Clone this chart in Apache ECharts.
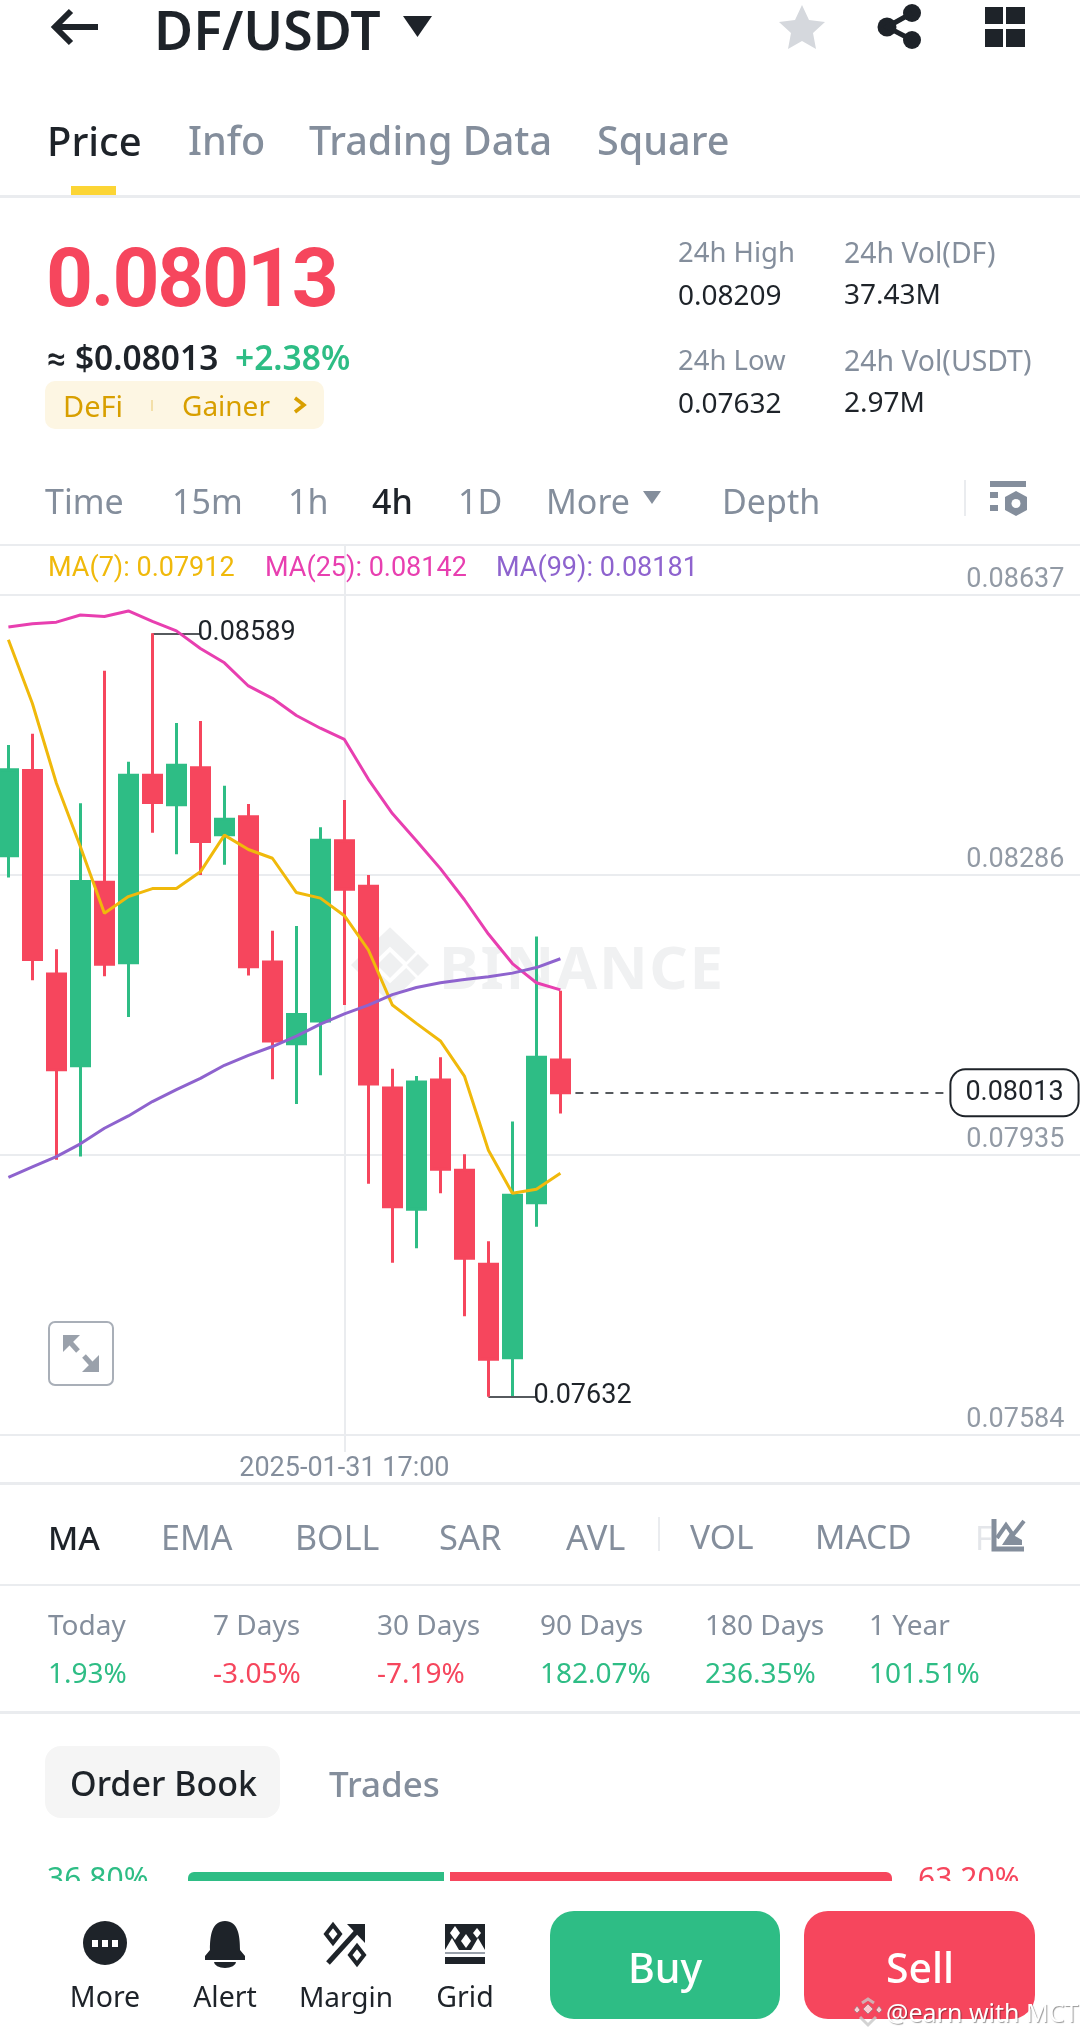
<!DOCTYPE html>
<html><head><meta charset="utf-8">
<script src="https://cdn.jsdelivr.net/npm/echarts@6/dist/echarts.min.js"></script>
<style>
html,body{margin:0;padding:0;background:#fff;}
body{width:1080px;height:2036px;overflow:hidden;position:relative;font-family:"Noto Sans",Roboto,sans-serif;color:#1e2329;}
#chart{position:absolute;left:0;top:0;width:1080px;height:2036px;z-index:2;}
#under{position:absolute;left:0;top:0;width:1080px;height:2036px;z-index:1;}
#over{position:absolute;left:0;top:0;width:1080px;height:2036px;z-index:3;}
.t{position:absolute;white-space:nowrap;line-height:1;transform:translateY(-50%);}
.c{transform:translate(-50%,-50%);}
.g{color:#848e9c;} .up{color:#2ebd85;} .dn{color:#f6465d;}
.rule{position:absolute;left:0;width:1080px;background:#eaecef;}
.box{position:absolute;}
</style></head><body>
<div id="under">
<div class="t" style="left:439px;top:966px;font:700 60px 'Noto Sans';color:#f0f1f2;letter-spacing:1.6px;">BINANCE</div>
<svg width="1080" height="2036" style="position:absolute;left:0;top:0">
<g fill="#eff0f1" stroke="none">
<polygon points="390,952 403,965 390,978 377,965"/><polygon points="418,954 429,965 418,976 407,965"/><polygon points="362,954 373,965 362,976 351,965"/>
</g>
<g fill="none" stroke="#eff0f1" stroke-width="14"><polyline points="369,957 390,937 411,957"/><polyline points="369,973 390,993 411,973"/></g>
</svg>
</div>
<div id="chart"></div>
<div id="over">
<div class="rule" style="top:195px;height:3px"></div>
<div class="rule" style="top:544px;height:2px"></div>
<div class="rule" style="top:1482px;height:3px"></div>
<div class="rule" style="top:1584px;height:2px"></div>
<div class="rule" style="top:1711px;height:3px"></div>
<div class="box" style="left:71px;top:186px;width:45px;height:9px;background:#fcd535"></div>

<div class="t" style="left:154px;top:30px;font-size:53.5px;font-weight:600;">DF/USDT</div>

<div class="t" style="left:47px;top:141px;font-size:40px;font-weight:500;">Price</div>
<div class="t g" style="left:188px;top:141px;font-size:39.6px;font-weight:500;">Info</div>
<div class="t g" style="left:309px;top:141px;font-size:39.6px;font-weight:500;">Trading Data</div>
<div class="t g" style="left:597px;top:141px;font-size:39.6px;font-weight:500;">Square</div>

<div class="t dn" style="left:46px;top:278px;font:700 82px Roboto;letter-spacing:-2.2px;">0.08013</div>
<div class="t" style="left:47px;top:358px;font-size:33.5px;font-weight:600;">≈ $0.08013</div>
<div class="t up" style="left:235px;top:358px;font-size:33.5px;font-weight:600;">+2.38%</div>
<div class="box" style="left:45px;top:381px;width:279px;height:48px;background:#fdf6e3;border-radius:10px"></div>
<div class="t" style="left:63px;top:405px;font-size:29px;color:#d89f00;">DeFi</div>
<div class="box" style="left:151px;top:400px;width:2px;height:11px;background:#f3dfa8"></div>
<div class="t" style="left:182px;top:405px;font-size:28px;color:#d89f00;">Gainer</div>

<div class="t g" style="left:678px;top:252px;font-size:27.5px;">24h High</div>
<div class="t" style="left:678px;top:294px;font-size:28px;">0.08209</div>
<div class="t g" style="left:844px;top:252px;font-size:28.4px;">24h Vol(DF)</div>
<div class="t" style="left:844px;top:293px;font-size:28px;">37.43M</div>
<div class="t g" style="left:678px;top:360px;font-size:27.5px;">24h Low</div>
<div class="t" style="left:678px;top:402px;font-size:28px;">0.07632</div>
<div class="t g" style="left:844px;top:360px;font-size:28.4px;">24h Vol(USDT)</div>
<div class="t" style="left:844px;top:401px;font-size:28px;">2.97M</div>

<div class="t g" style="left:45px;top:501px;font-size:34px;">Time</div>
<div class="t g" style="left:172px;top:501px;font-size:34px;">15m</div>
<div class="t g" style="left:288px;top:501px;font-size:34px;">1h</div>
<div class="t" style="left:372px;top:501px;font-size:34px;font-weight:500;">4h</div>
<div class="t g" style="left:458px;top:501px;font-size:34px;">1D</div>
<div class="t g" style="left:546px;top:501px;font-size:34px;">More</div>
<div class="t g" style="left:722px;top:501px;font-size:34px;">Depth</div>
<div class="box" style="left:964px;top:480px;width:2px;height:36px;background:#eaecef"></div>

<div class="t" style="left:48px;top:567px;font:27px Roboto;color:#f0b90b;">MA(7): 0.07912</div>
<div class="t" style="left:265px;top:567px;font:27px Roboto;color:#e83fb0;">MA(25): 0.08142</div>
<div class="t" style="left:496px;top:567px;font:27px Roboto;color:#8e63ce;">MA(99): 0.08181</div>

<div class="t" style="left:48px;top:1537px;font-size:33px;font-weight:500;">MA</div>
<div class="t g" style="left:161px;top:1537px;font-size:34px;">EMA</div>
<div class="t g" style="left:295px;top:1537px;font-size:34px;">BOLL</div>
<div class="t g" style="left:439px;top:1537px;font-size:34.5px;">SAR</div>
<div class="t g" style="left:566px;top:1537px;font-size:34.5px;">AVL</div>
<div class="box" style="left:658px;top:1517px;width:2px;height:34px;background:#eaecef"></div>
<div class="t g" style="left:690px;top:1537px;font-size:33.5px;">VOL</div>
<div class="t g" style="left:815px;top:1537px;font-size:33.5px;">MACD</div>
<div class="t" style="left:975px;top:1537px;font-size:33px;color:#e4e6ea;">F</div>

<div class="t g" style="left:48px;top:1624px;font-size:28px;">Today</div><div class="t up" style="left:48px;top:1672px;font-size:28px;">1.93%</div>
<div class="t g" style="left:213px;top:1624px;font-size:28px;">7 Days</div><div class="t dn" style="left:213px;top:1672px;font-size:28px;">-3.05%</div>
<div class="t g" style="left:377px;top:1624px;font-size:28px;">30 Days</div><div class="t dn" style="left:377px;top:1672px;font-size:28px;">-7.19%</div>
<div class="t g" style="left:540px;top:1624px;font-size:28px;">90 Days</div><div class="t up" style="left:540px;top:1672px;font-size:28px;">182.07%</div>
<div class="t g" style="left:705px;top:1624px;font-size:28px;">180 Days</div><div class="t up" style="left:705px;top:1672px;font-size:28px;">236.35%</div>
<div class="t g" style="left:869px;top:1624px;font-size:28px;">1 Year</div><div class="t up" style="left:869px;top:1672px;font-size:28px;">101.51%</div>

<div class="box" style="left:45px;top:1746px;width:235px;height:72px;background:#f5f5f5;border-radius:16px"></div>
<div class="t" style="left:70px;top:1783px;font-size:34px;font-weight:500;">Order Book</div>
<div class="t g" style="left:329px;top:1783px;font-size:35px;font-weight:500;">Trades</div>

<div class="box" style="left:0;top:1860px;width:1080px;height:21px;overflow:hidden">
<div class="t up" style="left:47px;top:18px;font-size:30px;">36.80%</div>
<div class="box" style="left:188px;top:12px;width:256px;height:20px;background:#2ebd85;border-radius:6px 0 0 6px"></div>
<div class="box" style="left:450px;top:12px;width:442px;height:20px;background:#f6465d;border-radius:0 6px 6px 0"></div>
<div class="t dn" style="left:918px;top:18px;font-size:30px;">63.20%</div>
</div>

<div class="t c" style="left:105px;top:1996px;font-size:28.5px;">More</div>
<div class="t c" style="left:225px;top:1996px;font-size:28.5px;">Alert</div>
<div class="t c" style="left:346px;top:1996px;font-size:28px;">Margin</div>
<div class="t c" style="left:465px;top:1996px;font-size:28.5px;">Grid</div>
<div class="box" style="left:550px;top:1911px;width:230px;height:108px;background:#2ebd85;border-radius:24px"></div>
<div class="box" style="left:804px;top:1911px;width:231px;height:108px;background:#f6465d;border-radius:24px"></div>
<div class="t c" style="left:665px;top:1967px;font-size:41px;font-weight:500;color:#fff;">Buy</div>
<div class="t c" style="left:920px;top:1967px;font-size:41px;font-weight:500;color:#fff;">Sell</div>

<svg width="1080" height="2036" style="position:absolute;left:0;top:0">
<g fill="none" stroke="#1e2329" stroke-width="6"><path d="M54 27H98"/><path d="M71 11L55 27L71 43"/></g>
<polygon points="403,16 432,16 417.5,37" fill="#1e2329"/>
<polygon points="802,5 809,20 825,22 813,33 816,49 802,41 788,49 791,33 779,22 795,20" fill="#d5d8dd"/>
<g fill="#1e2329"><circle cx="887" cy="27" r="9.5"/><circle cx="912" cy="13" r="9"/><circle cx="912" cy="40" r="9"/></g>
<path d="M912 13L887 27L912 40" stroke="#1e2329" stroke-width="5" fill="none"/>
<g fill="#1e2329"><rect x="985" y="7" width="18" height="17"/><rect x="1006" y="7" width="19" height="17"/><rect x="985" y="29" width="18" height="18"/><rect x="1006" y="29" width="19" height="18"/></g>
<path d="M295 398L304 405L295 412" stroke="#d89f00" stroke-width="3.5" fill="none"/>
<polygon points="643,491 661,491 652,504" fill="#848e9c"/>
<g fill="#848e9c"><rect x="990" y="481" width="36" height="6"/><rect x="990" y="492" width="8" height="6"/><rect x="990" y="505" width="8" height="6"/>
<polygon points="1016,491 1027,497 1027,510 1016,516 1005,510 1005,497"/></g><circle cx="1016" cy="503.5" r="4.5" fill="#fff"/>
<rect x="49" y="1322" width="64" height="63" rx="6" fill="#fff" stroke="#a9afb8" stroke-width="2"/>
<g fill="#9aa1ab"><polygon points="63,1335 80,1335 63,1352"/><polygon points="99,1372 82,1372 99,1355"/></g>
<g stroke="#9aa1ab" stroke-width="5"><path d="M68 1340L78 1351"/><path d="M84 1356L94 1367"/></g>
<path d="M994 1519V1549H1024" stroke="#848e9c" stroke-width="5" fill="none"/><polyline points="997,1538 1006,1525 1013,1535 1024,1521" stroke="#848e9c" stroke-width="4" fill="none"/><polygon points="1002,1545 1022,1545 1022,1540 1010,1533" fill="#848e9c"/>
<circle cx="105" cy="1943" r="22" fill="#1e2329"/><g fill="#fff"><rect x="92" y="1940" width="6" height="7"/><rect x="102" y="1940" width="6" height="7"/><rect x="112" y="1940" width="6" height="7"/></g>
<path d="M225 1921C212 1921 210 1935 210 1950L205 1956V1960H245V1956L240 1950C240 1935 238 1921 225 1921Z" fill="#1e2329"/><path d="M214 1962H236A11 6 0 0 1 214 1962Z" fill="#1e2329"/>
<path d="M328 1963L358 1930" stroke="#1e2329" stroke-width="5"/><polygon points="347,1924 365,1924 365,1943" fill="#1e2329"/>
<g fill="none" stroke="#1e2329" stroke-width="4"><polygon points="333,1925 340,1934 333,1943 326,1934"/><polygon points="357,1946 364,1955 357,1964 350,1955"/></g>
<rect x="445" y="1924" width="40" height="26" fill="#1e2329"/><g fill="#fff"><polygon points="455,1926 460,1933 455,1940 450,1933"/><polygon points="466,1934 471,1941 466,1948 461,1941"/><polygon points="445,1950 452,1938 459,1950"/><polygon points="471,1950 478,1938 485,1950"/><polygon points="477,1928 481,1933 477,1938 473,1933"/></g>
<rect x="445" y="1957" width="40" height="7" fill="#1e2329"/><rect x="445" y="1952" width="40" height="2" fill="#9aa1ab"/>
<g fill="rgba(255,255,255,.72)" stroke="rgba(120,120,120,.55)" stroke-width="1"><polygon points="868,2004 873,2009 868,2014 863,2009"/><polygon points="879,2006 882,2010 879,2013 876,2010"/><polygon points="857,2006 860,2010 857,2013 854,2010"/></g>
<g fill="none" stroke="rgba(200,200,200,.8)" stroke-width="3"><polyline points="862,2003 868,1999 874,2003"/><polyline points="860,2017 868,2025 876,2017"/></g>
</svg>
<div class="t" style="left:886px;top:2012px;font:25px 'Noto Sans';color:#fff;text-shadow:1px 1px 1px rgba(0,0,0,.4);">@earn with MCT</div>
</div>
<script>
// 4h candles, oldest first
const candleTimes=["2025-01-29 09:00","2025-01-29 13:00","2025-01-29 17:00","2025-01-29 21:00","2025-01-30 01:00","2025-01-30 05:00","2025-01-30 09:00","2025-01-30 13:00","2025-01-30 17:00","2025-01-30 21:00","2025-01-31 01:00","2025-01-31 05:00","2025-01-31 09:00","2025-01-31 13:00","2025-01-31 17:00","2025-01-31 21:00","2025-02-01 01:00","2025-02-01 05:00","2025-02-01 09:00","2025-02-01 13:00","2025-02-01 17:00","2025-02-01 21:00","2025-02-02 01:00","2025-02-02 05:00"];
const opens =[0.08310,0.08417,0.08162,0.08047,0.08277,0.08176,0.08411,0.08374,0.084205,0.083365,0.08359,0.08177,0.080745,0.08103,0.08329,0.08272,0.08019,0.07867,0.08029,0.07916,0.07798,0.07681,0.07875,0.08054];
const closes=[0.08418,0.08180,0.08042,0.08278,0.08174,0.08411,0.08377,0.084235,0.08328,0.08356,0.08171,0.08078,0.08111,0.083295,0.08268,0.08024,0.07870,0.080265,0.07917,0.078055,0.07679,0.078845,0.080575,0.08013];
const lows  =[0.08283,0.08154,0.07929,0.07933,0.08159,0.08108,0.08339,0.08312,0.08286,0.08299,0.08160,0.08030,0.07999,0.08035,0.08123,0.07899,0.07800,0.07818,0.07887,0.07733,0.07632,0.07633,0.07845,0.07987];
const highs =[0.08449,0.08463,0.08193,0.08376,0.08542,0.08428,0.08589,0.084765,0.08479,0.08398,0.08375,0.08216,0.08222,0.08346,0.08380,0.08286,0.08043,0.08034,0.080575,0.07936,0.07827,0.07977,0.08209,0.08141];
const ma7 =[0.08581,0.08501,0.08401,0.083215,0.08238,0.08259,0.08269,0.08269,0.08290,0.08336,0.08318,0.08307,0.08264,0.08257,0.08235,0.08192,0.08123,0.08100,0.08078,0.08034,0.07941,0.07887,0.07892,0.07912];
const ma25=[0.08597,0.08601,0.08603,0.08612,0.08610,0.08617,0.08604,0.08592,0.08570,0.08552,0.08523,0.085075,0.08486,0.08470,0.08456,0.08406,0.08363,0.08329,0.08294,0.08255,0.08212,0.08175,0.08151,0.08142];
const ma99=[0.07907,0.07920,0.07933,0.07949,0.079685,0.07984,0.08002,0.08017,0.08031,0.080475,0.08060,0.08071,0.08084,0.08099,0.08112,0.08123,0.08136,0.08145,0.08151,0.08155,0.081585,0.08163,0.08170,0.08181];
const priceTicks=[0.08637,0.08286,0.07935,0.07584];
const lastPrice=0.08013;
const highMark={index:6,value:0.08589,label:"0.08589"};
const lowMark={index:20,value:0.07632,label:"0.07632"};
const crosshairIndex=14;
const emptySlots=22;

const UP='#2ebd85',DOWN='#f6465d',GRID='#eaecef',INK='#1e2329';
const categories=candleTimes.concat(new Array(emptySlots).fill(''));
const candles=opens.map((o,i)=>[o,closes[i],lows[i],highs[i]]);
const chart=echarts.init(document.getElementById('chart'));
const hi=v=>[{coord:[v.index,v.value],label:{formatter:v.label}},{coord:[v.index+2,v.value]}];
chart.setOption({
 animation:false,
 grid:{left:-3.6,width:1104,top:545,bottom:584,containLabel:false,outerBoundsMode:'none'},
 xAxis:{type:'category',data:categories,boundaryGap:true,
  axisLine:{show:false},axisTick:{show:false},splitLine:{show:false},
  axisLabel:{color:'#848e9c',fontFamily:'Roboto',fontSize:27,margin:4,interval:(i)=>i===crosshairIndex,hideOverlap:false,showMinLabel:false,showMaxLabel:false}},
 yAxis:{type:'value',position:'right',min:0.075627,max:0.086997,scale:true,
  axisLine:{show:false},axisTick:{show:false},splitLine:{show:false},
  axisLabel:{inside:true,customValues:priceTicks,formatter:v=>v.toFixed(5),color:'#929aa5',fontFamily:'Roboto',fontSize:27,margin:36,verticalAlign:'bottom',padding:[0,0,1,0]}},
 series:[
  {name:'guides',type:'line',z:1,data:closes,showSymbol:false,silent:true,lineStyle:{opacity:0,width:0},
   markLine:{z:1,silent:true,symbol:['none','none'],animation:false,precision:5,label:{show:false},
    lineStyle:{color:GRID,width:2,type:'solid'},
    data:priceTicks.map(v=>({yAxis:v})).concat([{xAxis:crosshairIndex}],[[
      {coord:[23,lastPrice],lineStyle:{color:INK,width:1.5,type:[8,7]},
       label:{show:true,position:'end',distance:7,formatter:lastPrice.toFixed(5),color:INK,fontFamily:'Roboto',fontSize:27,lineHeight:27,backgroundColor:'#fff',borderColor:INK,borderWidth:2,borderRadius:14,padding:[11,14,7,14]}},
      {coord:[39,lastPrice]}]])}},
  {name:'DF/USDT',type:'candlestick',z:2,data:candles,barWidth:18,
   itemStyle:{color:UP,color0:DOWN,borderColor:UP,borderColor0:DOWN,borderWidth:3},
   markLine:{z:2,silent:true,symbol:['none','none'],animation:false,precision:5,
    lineStyle:{color:INK,width:1.5,type:'solid'},
    label:{show:true,position:'end',distance:-3,color:INK,fontFamily:'Roboto',fontSize:27},
    data:[hi(highMark),hi(lowMark)]}},
  {name:'MA(7)',type:'line',z:3,data:ma7,showSymbol:false,smooth:false,lineStyle:{color:'#f0b90b',width:3}},
  {name:'MA(25)',type:'line',z:3,data:ma25,showSymbol:false,smooth:false,lineStyle:{color:'#e83fb0',width:3}},
  {name:'MA(99)',type:'line',z:3,data:ma99,showSymbol:false,smooth:false,lineStyle:{color:'#8e63ce',width:3}}
 ]
});
</script>
</body></html>
